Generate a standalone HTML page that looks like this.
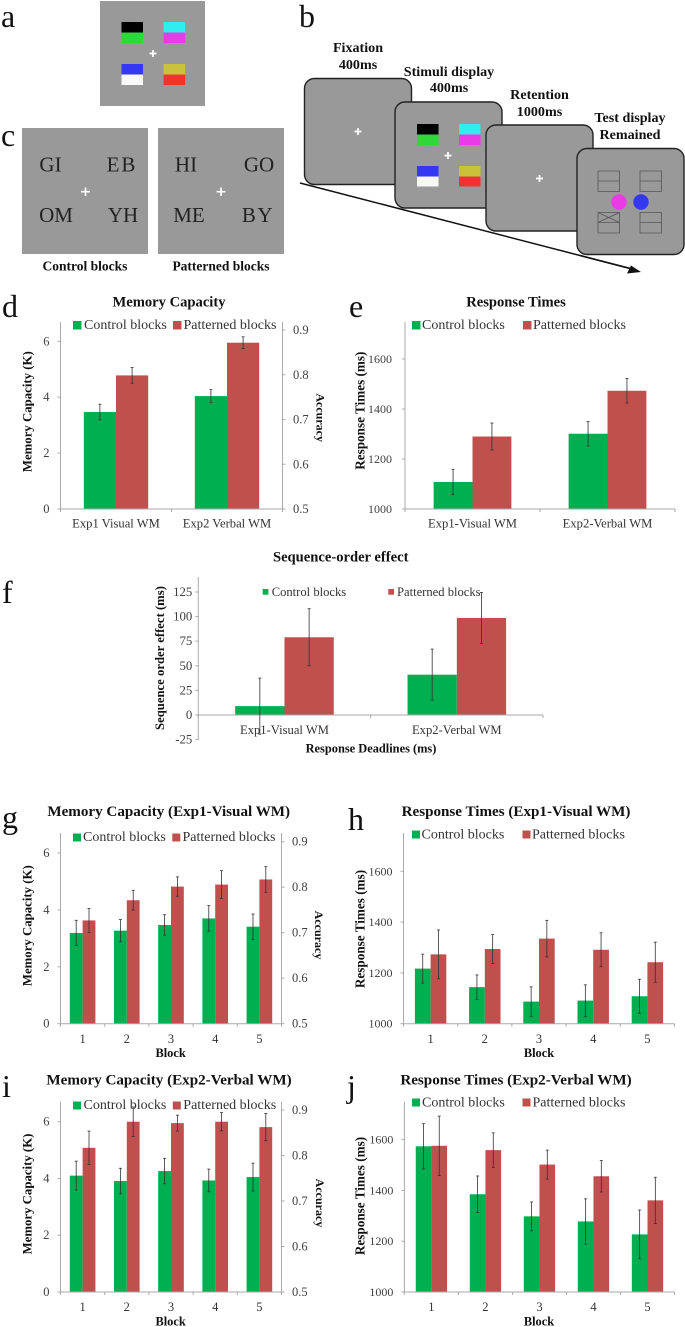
<!DOCTYPE html>
<html lang="en">
<head>
<meta charset="utf-8">
<title>Memory capacity and response time figure</title>
<style>
html,body{margin:0;padding:0;background:#fff;}
svg{display:block;filter:blur(0.35px);}
text{font-family:"Liberation Serif",serif;dominant-baseline:central;}
.letter{font-size:32px;fill:#111;dominant-baseline:auto;}
.title{font-size:14.6px;font-weight:bold;fill:#111;text-anchor:middle;}
.title-long{font-size:15.1px;font-weight:bold;fill:#111;text-anchor:middle;}
.axis-title{font-size:12.4px;font-weight:bold;fill:#111;text-anchor:middle;}
.y-memory{font-size:12.8px;font-weight:bold;fill:#111;text-anchor:middle;}
.y-response{font-size:13.2px;font-weight:bold;fill:#111;text-anchor:middle;}
.y-order{font-size:12.7px;font-weight:bold;fill:#111;text-anchor:middle;}
.caption{font-size:13.5px;font-weight:bold;fill:#111;text-anchor:middle;}
.acc{font-size:12px;font-weight:bold;fill:#111;text-anchor:middle;}
.legend{font-size:14px;fill:#333;}
.legend-small{font-size:12.6px;fill:#333;}
.stim-head{font-size:14.1px;font-weight:bold;fill:#111;text-anchor:middle;}
.pair{font-size:21px;fill:#222;text-anchor:middle;}
.screen{fill:#999;stroke:#222;stroke-width:1.4;}
.box{fill:none;stroke:#555;stroke-width:0.8;}
.cross{stroke:#fff;stroke-width:1.7;}
</style>
</head>
<body>
<svg xmlns="http://www.w3.org/2000/svg" width="685" height="1327" viewBox="0 0 685 1327">
<rect width="685" height="1327" fill="#fff"/>

<g>
<text class="letter" x="1" y="27">a</text>
<rect x="100" y="1" width="105" height="105" fill="#999"/>
<rect x="121.5" y="22" width="21.5" height="10.5" fill="#000"/>
<rect x="121.5" y="32.5" width="21.5" height="10.5" fill="#2fd83a"/>
<rect x="163.6" y="22" width="21.5" height="10.5" fill="#30eeee"/>
<rect x="163.6" y="32.5" width="21.5" height="10.5" fill="#e93ce6"/>
<rect x="121.5" y="64" width="21.5" height="10.5" fill="#3538f2"/>
<rect x="121.5" y="74.5" width="21.5" height="10.5" fill="#f8f8f8"/>
<rect x="163.6" y="64" width="21.5" height="10.5" fill="#c9c23a"/>
<rect x="163.6" y="74.5" width="21.5" height="10.5" fill="#f23232"/>
<path class="cross" d="M149.5 53.5h7M153 50v7"/>
</g>

<g>
<text class="letter" x="299" y="27">b</text>
<text class="stim-head" x="358" y="48">Fixation</text>
<text class="stim-head" x="358" y="65">400ms</text>
<text class="stim-head" x="449" y="72">Stimuli display</text>
<text class="stim-head" x="449" y="88">400ms</text>
<text class="stim-head" x="539.5" y="95">Retention</text>
<text class="stim-head" x="539.5" y="112">1000ms</text>
<text class="stim-head" x="630" y="118">Test display</text>
<text class="stim-head" x="630" y="135">Remained</text>
<rect class="screen" x="304.5" y="78.5" width="107" height="106" rx="10"/>
<path class="cross" d="M354.5 131.5h7M358 128v7"/>
<path d="M300 183 L636 270" stroke="#111" stroke-width="1.5" fill="none"/>
<rect class="screen" x="395" y="102" width="107" height="106" rx="10"/>
<rect x="417" y="124" width="21.5" height="10.5" fill="#000"/>
<rect x="417" y="134.5" width="21.5" height="10.5" fill="#2fd83a"/>
<rect x="459" y="124" width="21.5" height="10.5" fill="#30eeee"/>
<rect x="459" y="134.5" width="21.5" height="10.5" fill="#e93ce6"/>
<rect x="417" y="166" width="21.5" height="10.5" fill="#3538f2"/>
<rect x="417" y="176.5" width="21.5" height="10" fill="#f8f8f8"/>
<rect x="459" y="166" width="21.5" height="10.5" fill="#c9c23a"/>
<rect x="459" y="176.5" width="21.5" height="10" fill="#f23232"/>
<path class="cross" d="M444.5 155.5h7M448 152v7"/>
<rect class="screen" x="486" y="125" width="107" height="106" rx="10"/>
<path class="cross" d="M536 178.5h7M539.5 175v7"/>
<rect class="screen" x="577" y="148.5" width="107" height="106" rx="10"/>
<path class="box" d="M598 171h21.5v20.5H598zM598 181h21.5"/>
<path class="box" d="M640 171h21.5v20.5H640zM640 181h21.5"/>
<path class="box" d="M598 212.500h21.500v20.500H598zM598 222.500h21.500M598 212.500l21.500 10M619.500 212.500l-21.500 10"/>
<path class="box" d="M640 212.500h21.500v20.500H640zM640 222.500h21.500"/>
<ellipse cx="619" cy="202" rx="7.700" ry="7.700" fill="#e93ce6"/>
<ellipse cx="641" cy="202" rx="7.700" ry="7.700" fill="#3538f2"/>
<path d="M580 255.500 L636 270" stroke="#111" stroke-width="1.5" fill="none"/>
<path d="M641 272 L627 273.500 L631 265.500 Z" fill="#111"/>
</g>

<g>
<text class="letter" x="1" y="146">c</text>
<rect x="22" y="128" width="126" height="126" fill="#999"/>
<rect x="158" y="128" width="126" height="126" fill="#999"/>
<text class="pair" x="50.500" y="164.500">GI</text>
<text class="pair" x="122" y="164.500" letter-spacing="2">EB</text>
<text class="pair" x="56" y="215">OM</text>
<text class="pair" x="123" y="215">YH</text>
<text class="pair" x="186" y="164.500">HI</text>
<text class="pair" x="259" y="164.500">GO</text>
<text class="pair" x="189" y="215">ME</text>
<text class="pair" x="258" y="215" letter-spacing="1.500">BY</text>
<path class="cross" d="M81 191.700h9M85.500 187.500v8.500" stroke-width="2"/>
<path class="cross" d="M216.500 191.700h9M221 187.500v8.500" stroke-width="2"/>
<text class="caption" x="85" y="266">Control blocks</text>
<text class="caption" x="221" y="266">Patterned blocks</text>
</g>

<g id="chart-d">
<text class="letter" x="2" y="317">d</text>
<text class="title" x="169" y="302.700">Memory Capacity</text>
<text class="y-memory" x="27.600" y="411.700" transform="rotate(-90 27.600 411.700)">Memory Capacity (K)</text>
<text class="acc" x="320.600" y="417.700" transform="rotate(90 320.600 417.700)">Accuracy</text>
<rect x="73" y="321" width="8.500" height="8.500" fill="#00b050"/>
<text class="legend" x="84" y="325.300">Control blocks</text>
<rect x="173" y="321" width="8.500" height="8.500" fill="#c0504d"/>
<text class="legend" x="183.500" y="325.300">Patterned blocks</text>
</g>

<g id="chart-e">
<text class="letter" x="349" y="317">e</text>
<text class="title" x="516" y="302.700">Response Times</text>
<text class="y-response" x="360" y="410.700" transform="rotate(-90 360 410.700)">Response Times (ms)</text>
<rect x="412" y="321" width="8.500" height="8.500" fill="#00b050"/>
<text class="legend" x="422" y="325.300">Control blocks</text>
<rect x="523" y="321" width="8.500" height="8.500" fill="#c0504d"/>
<text class="legend" x="533" y="325.300">Patterned blocks</text>
</g>

<g id="chart-f">
<text class="letter" x="2" y="603">f</text>
<text class="title" x="340.700" y="557.700">Sequence-order effect</text>
<text class="y-order" x="160" y="658" transform="rotate(-90 160 658)">Sequence order effect (ms)</text>
<text class="axis-title" x="371" y="748.700">Response Deadlines (ms)</text>
<rect x="262.700" y="589" width="5.700" height="5.700" fill="#00b050"/>
<text class="legend-small" x="271.700" y="592">Control blocks</text>
<rect x="388.300" y="589" width="5.700" height="5.700" fill="#c0504d"/>
<text class="legend-small" x="397" y="592">Patterned blocks</text>
</g>

<g id="chart-g">
<text class="letter" x="2" y="828">g</text>
<text class="title-long" x="168.700" y="812">Memory Capacity (Exp1-Visual WM)</text>
<text class="y-memory" x="27.600" y="925.700" transform="rotate(-90 27.600 925.700)">Memory Capacity (K)</text>
<text class="acc" x="319" y="935" transform="rotate(90 319 935)">Accuracy</text>
<text class="axis-title" x="170.600" y="1053">Block</text>
<rect x="73" y="833.500" width="8" height="8" fill="#00b050"/>
<text class="legend" x="83" y="837.700">Control blocks</text>
<rect x="172.300" y="833.500" width="8" height="8" fill="#c0504d"/>
<text class="legend" x="182.500" y="837.700">Patterned blocks</text>
</g>

<g id="chart-h">
<text class="letter" x="348" y="830">h</text>
<text class="title-long" x="516" y="812">Response Times (Exp1-Visual WM)</text>
<text class="y-response" x="360" y="929" transform="rotate(-90 360 929)">Response Times (ms)</text>
<text class="axis-title" x="539" y="1053">Block</text>
<rect x="412" y="830.500" width="8" height="8" fill="#00b050"/>
<text class="legend" x="421.500" y="835">Control blocks</text>
<rect x="522.500" y="830.500" width="8" height="8" fill="#c0504d"/>
<text class="legend" x="532" y="835">Patterned blocks</text>
</g>

<g id="chart-i">
<text class="letter" x="2" y="1097">i</text>
<text class="title-long" x="169" y="1080.700">Memory Capacity (Exp2-Verbal WM)</text>
<text class="y-memory" x="27.600" y="1194" transform="rotate(-90 27.600 1194)">Memory Capacity (K)</text>
<text class="acc" x="320" y="1203" transform="rotate(90 320 1203)">Accuracy</text>
<text class="axis-title" x="170.600" y="1321.700">Block</text>
<rect x="73" y="1101.500" width="8" height="8" fill="#00b050"/>
<text class="legend" x="83.500" y="1105.700">Control blocks</text>
<rect x="172.800" y="1101.500" width="8" height="8" fill="#c0504d"/>
<text class="legend" x="183.300" y="1105.700">Patterned blocks</text>
</g>

<g id="chart-j">
<text class="letter" x="347" y="1097">j</text>
<text class="title-long" x="516" y="1080.700">Response Times (Exp2-Verbal WM)</text>
<text class="y-response" x="360" y="1196" transform="rotate(-90 360 1196)">Response Times (ms)</text>
<text class="axis-title" x="539" y="1321.700">Block</text>
<rect x="412" y="1098.500" width="8" height="8" fill="#00b050"/>
<text class="legend" x="422" y="1103">Control blocks</text>
<rect x="522.500" y="1098.500" width="8" height="8" fill="#c0504d"/>
<text class="legend" x="532.500" y="1103">Patterned blocks</text>
</g>
</svg>

<script>
// ---------- data ----------
const expCategoriesSpaced = ["Exp1 Visual WM", "Exp2 Verbal WM"];
const expCategoriesDashed = ["Exp1-Visual WM", "Exp2-Verbal WM"];
const blockCategories = ["1", "2", "3", "4", "5"];

const capacityTicks = [0, 2, 4, 6];
const accuracyTicks = ["0.5", "0.6", "0.7", "0.8", "0.9"];
const responseTicks = [1000, 1200, 1400, 1600];
const orderTicks = [-25, 0, 25, 50, 75, 100, 125];

const dControl = [3.47, 4.04];
const dPatterned = [4.78, 5.95];
const dControlErr = [0.28, 0.23];
const dPatternedErr = [0.28, 0.21];

const eControl = [1108, 1301];
const ePatterned = [1290, 1473];
const eControlErr = [51, 49];
const ePatternedErr = [54, 49];

const fControl = [9, 41];
const fPatterned = [79, 98.6];
const fControlErr = [28.5, 26];
const fPatternedErr = [29, 26];

const gControl = [3.19, 3.27, 3.47, 3.70, 3.41];
const gPatterned = [3.63, 4.34, 4.82, 4.89, 5.07];
const gControlErr = [0.445, 0.39, 0.36, 0.45, 0.445];
const gPatternedErr = [0.42, 0.35, 0.34, 0.49, 0.45];

const hControl = [1217, 1144, 1087, 1091, 1108];
const hPatterned = [1273, 1294, 1335, 1291, 1242];
const hControlErr = [57, 48, 58, 62, 67];
const hPatternedErr = [96, 57, 72, 67, 79];

const iControl = [4.10, 3.91, 4.26, 3.93, 4.05];
const iPatterned = [5.08, 6.00, 5.95, 6.00, 5.81];
const iControlErr = [0.51, 0.45, 0.45, 0.40, 0.49];
const iPatternedErr = [0.59, 0.52, 0.28, 0.32, 0.48];

const jControl = [1574, 1385, 1298, 1278, 1227];
const jPatterned = [1576, 1559, 1502, 1456, 1361];
const jControlErr = [89, 72, 57, 89, 96];
const jPatternedErr = [117, 68, 57, 62, 91];

// ---------- drawing ----------
const NS = "http://www.w3.org/2000/svg";
const GREEN = "#00b050";
const RED = "#c0504d";
const AXIS = "#aaaaaa";

function make(parent, tag, attrs) {
  const el = document.createElementNS(NS, tag);
  for (const k in attrs) el.setAttribute(k, attrs[k]);
  parent.appendChild(el);
  return el;
}

function line(parent, x1, y1, x2, y2, color, width) {
  return make(parent, "line", { x1: x1, y1: y1, x2: x2, y2: y2, stroke: color, "stroke-width": width });
}

function label(parent, x, y, str, anchor, size, color) {
  const el = make(parent, "text", { x: x, y: y, "text-anchor": anchor, "font-size": size, fill: color });
  el.textContent = str;
  return el;
}

function drawChart(c) {
  const root = document.getElementById(c.id);
  const yScale = v => c.base - (v - c.yBase) * (c.base - c.refPx) / (c.refValue - c.yBase);
  const rightScale = v => c.base - (v - c.rightMin) * (c.base - c.rightRefPx) / (c.rightRef - c.rightMin);
  const band = (c.right - c.left) / c.categories.length;
  const xCenter = i => c.left + band * (i + 0.5);
  const barW = band * c.barFrac;
  const zero = yScale(c.yBase);
  const axisBottom = yScale(c.yTicks[0]);

  const yAxis = line(root, c.left, c.top, c.left, axisBottom, AXIS, 1);
  
  

  c.yTicks.forEach(t => {
    const y = yScale(t);
    const tick = line(root, c.left - 3, y, c.left, y, AXIS, 1);
    
    
    const lab = label(root, c.left - c.tickPad, y, String(t), "end", c.tickSize, "#404040");
    
    
  });

  if (c.rightTicks) {
    const rAxis = line(root, c.right, c.top, c.right, c.base, AXIS, 1);
    
    
    c.rightTicks.forEach(t => {
      const y = rightScale(Number(t));
      const tick = line(root, c.right, y, c.right + 3, y, AXIS, 1);
      
      
      const lab = label(root, c.right + 10.5, y, t, "start", c.tickSize, "#404040");
      
      
    });
  }

  c.categories.forEach((cat, i) => {
    const v0 = yScale(c.control[i]);
    const v1 = yScale(c.patterned[i]);
    const xc = xCenter(i);

    const bar0 = make(root, "rect", { x: xc - barW, y: Math.min(v0, zero), width: barW, height: Math.abs(zero - v0), fill: GREEN });
    
    
    const bar1 = make(root, "rect", { x: xc, y: Math.min(v1, zero), width: barW, height: Math.abs(zero - v1), fill: RED });
    
    

    const lab = label(root, xc, c.labelY, cat, "middle", c.labelSize, "#333");
    
    
  });

  const xAxis = line(root, c.left, zero, c.right, zero, AXIS, 1);
  
  
  for (let i = 0; i <= c.categories.length; i++) {
    const x = c.left + band * i;
    const tick = line(root, x, zero, x, zero + 3, AXIS, 1);
    
    
  }

  c.categories.forEach((cat, i) => {
    const xc = xCenter(i);
    const series = [
      [xc - barW / 2, c.control[i], c.controlErr[i]],
      [xc + barW / 2, c.patterned[i], c.patternedErr[i]]
    ];
    series.forEach(s => {
      const hi = yScale(s[1] + s[2]);
      const lo = yScale(s[1] - s[2]);
      const stem = line(root, s[0], hi, s[0], lo, "#333", 0.8);
      
      
      const capHi = line(root, s[0] - 1.5, hi, s[0] + 1.5, hi, "#333", 0.8);
      
      
      const capLo = line(root, s[0] - 1.5, lo, s[0] + 1.5, lo, "#333", 0.8);
      
      
    });
  });
}

drawChart({ id: "chart-d", categories: expCategoriesSpaced, control: dControl, patterned: dPatterned, controlErr: dControlErr, patternedErr: dPatternedErr,
  left: 60.5, right: 282.5, top: 322, base: 509, yBase: 0, refValue: 6, refPx: 341.3, yTicks: capacityTicks, rightTicks: accuracyTicks, rightMin: 0.5, rightRef: 0.9, rightRefPx: 330,
  barFrac: 0.29, tickPad: 11, tickSize: 12.5, labelY: 523.7, labelSize: 12.6 });
drawChart({ id: "chart-e", categories: expCategoriesDashed, control: eControl, patterned: ePatterned, controlErr: eControlErr, patternedErr: ePatternedErr,
  left: 405, right: 675, top: 322, base: 509, yBase: 1000, refValue: 1600, refPx: 359, yTicks: responseTicks,
  barFrac: 0.288, tickPad: 13, tickSize: 12, labelY: 523.7, labelSize: 12.6 });
drawChart({ id: "chart-f", categories: expCategoriesDashed, control: fControl, patterned: fPatterned, controlErr: fControlErr, patternedErr: fPatternedErr,
  left: 198.3, right: 543, top: 577, base: 715, yBase: 0, refValue: 125, refPx: 592, yTicks: orderTicks,
  barFrac: 0.286, tickPad: 6, tickSize: 12.8, labelY: 730, labelSize: 12.6 });
drawChart({ id: "chart-g", categories: blockCategories, control: gControl, patterned: gPatterned, controlErr: gControlErr, patternedErr: gPatternedErr,
  left: 60.5, right: 281.5, top: 833, base: 1023.7, yBase: 0, refValue: 6, refPx: 853, yTicks: capacityTicks, rightTicks: accuracyTicks, rightMin: 0.5, rightRef: 0.9, rightRefPx: 841.7,
  barFrac: 0.29, tickPad: 11, tickSize: 12.5, labelY: 1039, labelSize: 12.5 });
drawChart({ id: "chart-h", categories: blockCategories, control: hControl, patterned: hPatterned, controlErr: hControlErr, patternedErr: hPatternedErr,
  left: 403.5, right: 674.5, top: 833, base: 1023.7, yBase: 1000, refValue: 1600, refPx: 871.3, yTicks: responseTicks,
  barFrac: 0.29, tickPad: 11, tickSize: 12, labelY: 1039, labelSize: 12.5 });
drawChart({ id: "chart-i", categories: blockCategories, control: iControl, patterned: iPatterned, controlErr: iControlErr, patternedErr: iPatternedErr,
  left: 60.5, right: 281.5, top: 1101.7, base: 1292, yBase: 0, refValue: 6, refPx: 1121.7, yTicks: capacityTicks, rightTicks: accuracyTicks, rightMin: 0.5, rightRef: 0.9, rightRefPx: 1110,
  barFrac: 0.29, tickPad: 11, tickSize: 12.5, labelY: 1307, labelSize: 12.5 });
drawChart({ id: "chart-j", categories: blockCategories, control: jControl, patterned: jPatterned, controlErr: jControlErr, patternedErr: jPatternedErr,
  left: 404.4, right: 674.5, top: 1101.7, base: 1292, yBase: 1000, refValue: 1600, refPx: 1139.7, yTicks: responseTicks,
  barFrac: 0.29, tickPad: 11, tickSize: 12, labelY: 1307, labelSize: 12.5 });
</script>
</body>
</html>
